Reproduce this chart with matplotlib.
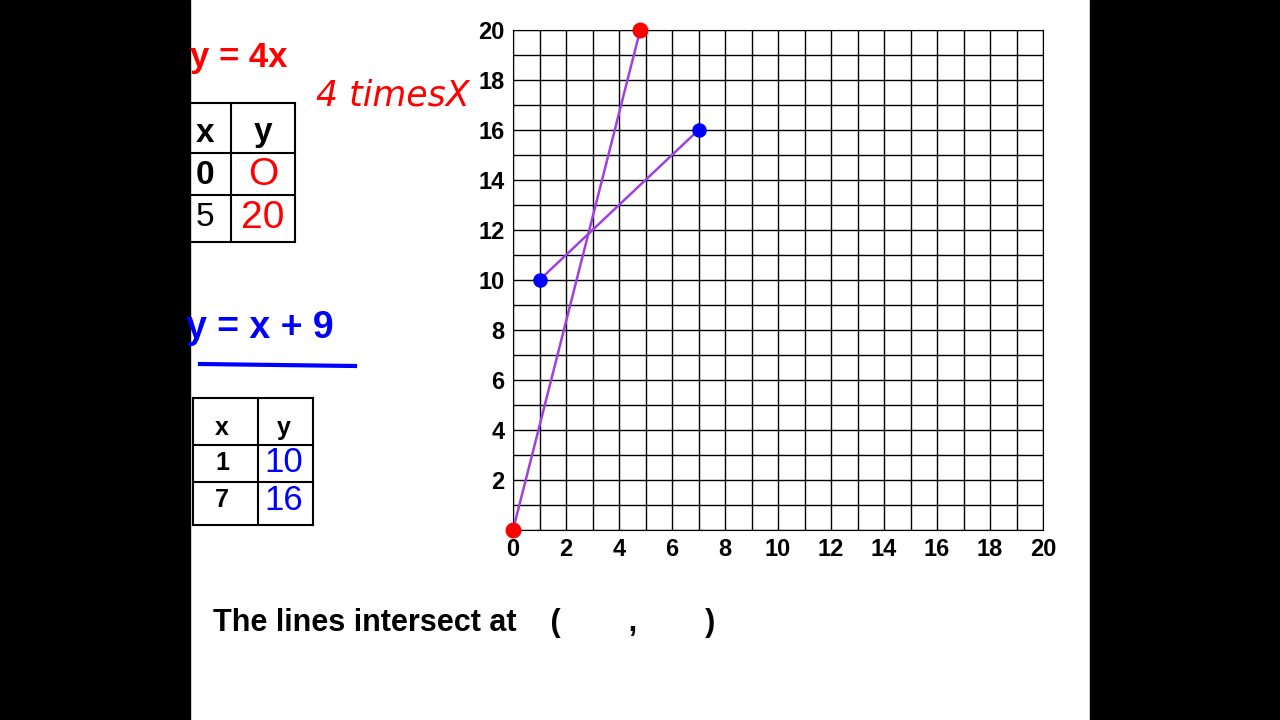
import matplotlib
matplotlib.use("Agg")
import matplotlib.pyplot as plt

red_x = [0, 4.8]
red_y = [0, 20]
blue_x = [1, 7]
blue_y = [10, 16]
ticks = [0, 2, 4, 6, 8, 10, 12, 14, 16, 18, 20]
t1_rows = [("x", "y"), ("0", "O"), ("5", "20")]
t2_rows = [("x", "y"), ("1", "10"), ("7", "16")]

plt.rcParams['font.family'] = ['Liberation Sans', 'DejaVu Sans']
fig = plt.figure(figsize=(12.8, 7.2), dpi=100)
fig.patch.set_facecolor('white')

bg = fig.add_axes([0, 0, 1, 1])
bg.set_xlim(0, 1280); bg.set_ylim(720, 0); bg.axis('off')
bg.add_patch(plt.Rectangle((0, 0), 190, 720, color='black'))
bg.add_patch(plt.Rectangle((1090, 0), 190, 720, color='black'))

bg.text(190, 58, "y = 4x", color='#ff0000', fontsize=25, fontweight='bold', va='center')
bg.text(316, 95, "4 timesX", color='#ff0000', fontsize=25, va='center', family='DejaVu Sans', style='italic')
# table 1
for y in [103, 153, 195, 242]:
    bg.plot([190, 295], [y, y], color='black', lw=1.5)
bg.plot([231, 231], [103, 242], color='black', lw=1.5)
bg.plot([295, 295], [103, 242], color='black', lw=1.5)
for (a, b), yc, cb in zip(t1_rows, [133, 175, 218], ['black', '#ff0000', '#ff0000']):
    bg.text(205, yc, a, fontsize=24, fontweight='bold' if a in 'x0' else 'normal', ha='center', va='center')
    bg.text(263, yc, b, fontsize=28 if cb != 'black' else 24, color=cb, ha='center', va='center',
            fontweight='bold' if cb == 'black' else 'normal')

bg.text(186, 328, "y = x + 9", color='#0000ff', fontsize=27, fontweight='bold', va='center')
bg.plot([200, 355], [364, 366], color='#0000ff', lw=3)
# table 2
for y in [398, 445, 482, 525]:
    bg.plot([193, 313], [y, y], color='black', lw=1.5)
for x in [193, 258, 313]:
    bg.plot([x, x], [398, 525], color='black', lw=1.5)
for (a, b), yc, cb in zip(t2_rows, [428, 463, 500], ['black', '#0000ff', '#0000ff']):
    bg.text(222, yc, a, fontsize=18, fontweight='bold', ha='center', va='center')
    bg.text(284, yc, b, fontsize=18 if cb == 'black' else 25, color=cb, ha='center', va='center',
            fontweight='bold' if cb == 'black' else 'normal')

bg.text(213, 623, "The lines intersect at    (        ,        )", fontsize=22, fontweight='bold', va='center')

ax = fig.add_axes([513/1280, 190/720, 530/1280, 500/720])
ax.set_xlim(0, 20); ax.set_ylim(0, 20)
ax.set_xticks(range(21), minor=True); ax.set_yticks(range(21), minor=True)
ax.set_xticks(ticks); ax.set_yticks(ticks[1:])
ax.grid(which='both', color='black', lw=1)
ax.tick_params(which='both', length=0)
ax.tick_params(labelsize=17, pad=6)
for lab in ax.get_xticklabels() + ax.get_yticklabels():
    lab.set_fontweight('bold')
for s in ax.spines.values():
    s.set_color('black')
ax.plot(red_x, red_y, color='#a040e0', lw=1.8, zorder=3)
ax.plot(blue_x, blue_y, color='#a040e0', lw=1.8, zorder=3)
ax.scatter(red_x, red_y, color='#ff0000', s=110, zorder=4, clip_on=False)
ax.scatter(blue_x, blue_y, color='#0000ff', s=90, zorder=4, clip_on=False)

fig.savefig("out.png", dpi=100)
